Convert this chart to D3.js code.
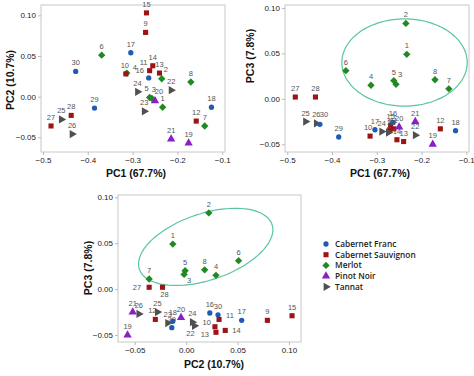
<!DOCTYPE html>
<html>
  <head>
    <meta charset="utf-8">
    <style>
      body { margin: 0; background: #fff; }
      svg { display: block; }
      .tick text { font-family: "Liberation Sans", Arial, sans-serif; font-size: 8px; fill: #222; }
      .tick line { stroke: #bbb; }
      .domain { display: none; }
    </style>
  </head>
  <body>
    <script src="https://cdn.jsdelivr.net/npm/d3@7/dist/d3.min.js"></script>
    <script>
    // sample numbers, variety and PCA scores
    var ids = [1, 2, 3, 4, 5, 6, 7, 8, 9, 10, 11, 12, 13, 14, 15,
               16, 17, 18, 19, 20, 21, 22, 23, 24, 25, 26, 27, 28, 29, 30];
    var variety = ["Merlot", "Merlot", "Merlot", "Merlot", "Merlot", "Merlot", "Merlot", "Merlot",
                   "Cabernet Sauvignon", "Cabernet Sauvignon", "Cabernet Sauvignon", "Cabernet Sauvignon",
                   "Cabernet Sauvignon", "Cabernet Sauvignon", "Cabernet Sauvignon",
                   "Cabernet Franc", "Cabernet Franc", "Cabernet Franc",
                   "Pinot Noir", "Pinot Noir", "Pinot Noir",
                   "Tannat", "Tannat", "Tannat", "Tannat", "Tannat",
                   "Cabernet Sauvignon", "Cabernet Sauvignon", "Cabernet Franc", "Cabernet Franc"];
    var pc1 = [-0.233, -0.235, -0.257, -0.313, -0.262, -0.369, -0.139, -0.170, -0.271, -0.315,
               -0.262, -0.158, -0.240, -0.255, -0.269, -0.264, -0.304, -0.124, -0.175, -0.250,
               -0.214, -0.214, -0.274, -0.289, -0.459, -0.435, -0.482, -0.437, -0.385, -0.427];
    var pc2 = [-0.013, 0.022, -0.002, 0.029, -0.001, 0.051, -0.036, 0.018, 0.079, 0.028,
               0.032, -0.030, 0.029, 0.038, 0.103, 0.023, 0.054, -0.013, -0.057, -0.005,
               -0.052, 0.008, -0.018, 0.006, -0.028, -0.046, -0.036, -0.023, -0.014, 0.031];
    var pc3 = [0.049, 0.083, 0.016, 0.015, 0.020, 0.031, 0.011, 0.021, -0.034, -0.041,
               -0.033, -0.033, -0.047, -0.045, -0.029, -0.026, -0.034, -0.035, -0.050, -0.031,
               -0.025, -0.040, -0.037, -0.036, -0.025, -0.027, 0.002, 0.002, -0.042, -0.028];

    var varieties = ["Cabernet Franc", "Cabernet Sauvignon", "Merlot", "Pinot Noir", "Tannat"];
    var colors = ["#1f5bb5", "#9e1414", "#1f8a22", "#8a1fc4", "#505050"];

    var pc1Ticks = [-0.5, -0.4, -0.3, -0.2, -0.1];
    var pc2Ticks = [-0.05, 0.00, 0.05, 0.10];
    var pcYTicks = [-0.05, 0.00, 0.05, 0.10];

    // Merlot ellipses: centre and two half-axis vectors, in data units
    var ellipse13 = { c: [-0.238, 0.040], u: [0.140, 0], v: [0, 0.048] };
    var ellipse23 = { c: [0.019, 0.046], u: [0.0644, 0.0247], v: [-0.011, 0.034] };

    var data = ids.map(function(id, i) {
      return { id: id, variety: variety[i], pc1: pc1[i], pc2: pc2[i], pc3: pc3[i] };
    });

    var color = d3.scaleOrdinal().domain(varieties).range(colors);

    var width = 474, height = 376;
    var svg = d3.select("body").append("svg")
        .attr("width", width)
        .attr("height", height)
        .style("font-family", "Liberation Sans, Arial, sans-serif");

    function symbolPath(v, k) {
      k = k || 1;
      if (v == "Cabernet Franc") return d3.symbol().type(d3.symbolCircle).size(22 * k)();
      if (v == "Cabernet Sauvignon") return d3.symbol().type(d3.symbolSquare).size(26 * k)();
      if (v == "Merlot") return d3.symbol().type(d3.symbolSquare).size(27 * k)();
      return d3.symbol().type(d3.symbolTriangle).size(30 * k)();
    }
    function symbolRotate(v) {
      if (v == "Merlot") return 45;
      if (v == "Tannat") return 90;
      return 0;
    }

    var panels = [
      { xKey: "pc1", yKey: "pc2", left: 41, right: 225, top: 5, bottom: 152,
        xDomain: [-0.5044, -0.0938], yDomain: [-0.068, 0.1127],
        xTicks: pc1Ticks, xFmt: ".1f", xTitle: "PC1 (67.7%)", yTitle: "PC2 (10.7%)",
        xTitleAt: [136, 177], yTitleAt: [14, 80], ellipse: null,
        nudge: { 4: [6, -3, "start"], 2: [4, -7], 5: [-3, -6], 16: [-9, -5], 11: [-6, -6], 20: [4, -7],
                 10: [-1, -6], 3: [2, -6] } },
      { xKey: "pc1", yKey: "pc3", left: 285, right: 469, top: 5, bottom: 152,
        xDomain: [-0.505, -0.094], yDomain: [-0.0585, 0.1033],
        xTicks: pc1Ticks, xFmt: ".1f", xTitle: "PC1 (67.7%)", yTitle: "PC3 (7.8%)",
        xTitleAt: [380, 177], yTitleAt: [254, 56], ellipse: ellipse13,
        nudge: { 3: [4, -7], 30: [4, -7], 10: [-2, -6], 23: [3, -7] } },
      { xKey: "pc2", yKey: "pc3", left: 118, right: 301, top: 195, bottom: 342,
        xDomain: [-0.0663, 0.1117], yDomain: [-0.0576, 0.1025],
        xTicks: pc2Ticks, xFmt: ".2f", xTitle: "PC2 (10.7%)", yTitle: "PC3 (7.8%)",
        xTitleAt: [214, 368], yTitleAt: [92, 268], ellipse: ellipse23,
        nudge: { 3: [5, 9], 28: [2, 10], 27: [-8, 3, "end"], 22: [-4, 10], 13: [-7, 5, "end"],
                 14: [7, 3, "start"], 11: [7, -1, "start"], 10: [-4, -2, "end"], 12: [-3, -6] } }
    ];

    panels.forEach(function(p) {
      var x = d3.scaleLinear().domain(p.xDomain).range([p.left, p.right]);
      var y = d3.scaleLinear().domain(p.yDomain).range([p.bottom, p.top]);
      var g = svg.append("g");

      g.append("rect")
        .attr("x", p.left).attr("y", p.top)
        .attr("width", p.right - p.left).attr("height", p.bottom - p.top)
        .attr("fill", "none").attr("stroke", "#c8c8c8").attr("stroke-width", 1);

      g.append("g")
        .attr("transform", "translate(0," + p.bottom + ")")
        .call(d3.axisBottom(x).tickValues(p.xTicks).tickFormat(d3.format(p.xFmt)).tickSize(3).tickPadding(2));
      g.append("g")
        .attr("transform", "translate(" + p.left + ",0)")
        .call(d3.axisLeft(y).tickValues(pcYTicks).tickFormat(d3.format(".2f")).tickSize(3).tickPadding(2));

      g.append("text")
        .attr("x", p.xTitleAt[0]).attr("y", p.xTitleAt[1])
        .attr("text-anchor", "middle")
        .style("font-size", "10.5px").style("font-weight", "bold").attr("fill", "#111")
        .text(p.xTitle);
      g.append("text")
        .attr("transform", "translate(" + p.yTitleAt[0] + "," + p.yTitleAt[1] + ") rotate(-90)")
        .attr("text-anchor", "middle")
        .style("font-size", "10.5px").style("font-weight", "bold").attr("fill", "#111")
        .text(p.yTitle);

      if (p.ellipse) {
        var e = p.ellipse;
        var pts = d3.range(0, 361, 4).map(function(a) {
          var t = a * Math.PI / 180;
          return [x(e.c[0] + e.u[0] * Math.cos(t) + e.v[0] * Math.sin(t)),
                  y(e.c[1] + e.u[1] * Math.cos(t) + e.v[1] * Math.sin(t))];
        });
        g.append("path")
          .attr("d", d3.line().curve(d3.curveCardinalClosed)(pts.slice(0, -1)))
          .attr("fill", "none").attr("stroke", "#5cc4a0").attr("stroke-width", 1.2);
      }

      var pt = g.selectAll(".pt").data(data).enter().append("g")
        .attr("transform", function(d) { return "translate(" + x(d[p.xKey]) + "," + y(d[p.yKey]) + ")"; });
      pt.append("path")
        .attr("d", function(d) { return symbolPath(d.variety); })
        .attr("transform", function(d) { return "rotate(" + symbolRotate(d.variety) + ")"; })
        .attr("fill", function(d) { return color(d.variety); });

      pt.append("text")
        .attr("x", function(d) { return p.nudge[d.id] ? p.nudge[d.id][0] : 0; })
        .attr("y", function(d) { return p.nudge[d.id] ? p.nudge[d.id][1] : -6; })
        .attr("text-anchor", function(d) { return (p.nudge[d.id] && p.nudge[d.id][2]) || "middle"; })
        .style("font-size", "7.5px").attr("fill", "#555")
        .text(function(d) { return d.id; });
    });

    // legend
    var legend = svg.append("g").attr("transform", "translate(326,244)");
    varieties.forEach(function(v, i) {
      var row = legend.append("g").attr("transform", "translate(0," + (i * 10.7) + ")");
      row.append("path")
        .attr("d", symbolPath(v))
        .attr("transform", "rotate(" + symbolRotate(v) + ")")
        .attr("fill", color(v));
      row.append("text")
        .attr("x", 9).attr("y", 3)
        .style("font-family", "Open Sans, sans-serif")
        .style("font-size", "8.3px").style("font-weight", 600).attr("fill", "#222")
        .text(v);
    });
    </script>
  </body>
</html>
